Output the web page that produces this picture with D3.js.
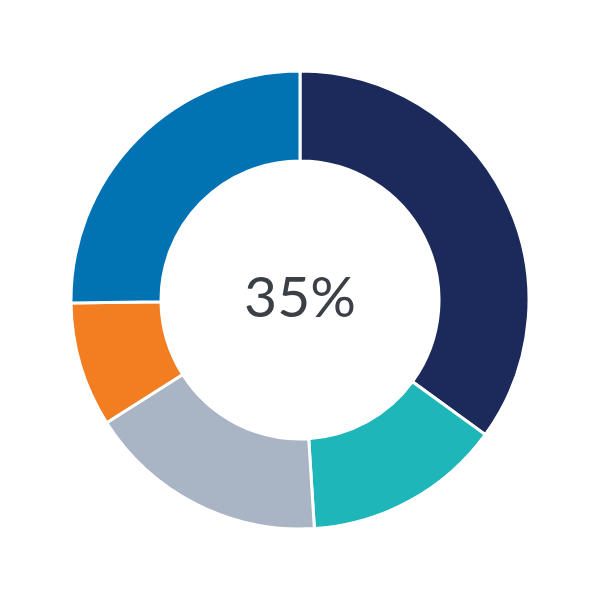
<!DOCTYPE html>
<html>
<head>
<meta charset="utf-8">
<script src="https://cdn.jsdelivr.net/npm/d3@7"></script>
<style>
  html, body { margin: 0; padding: 0; background: #fff; }
</style>
</head>
<body>
<div id="chart"></div>
<script>
// Slice data, clockwise from 12 o'clock
const categories = ['A', 'B', 'C', 'D', 'E'];
const values = [35, 14, 17, 8.8, 25.2];
const colors = ['#1b2a5a', '#1eb6b8', '#a9b4c4', '#f37d21', '#0173b3'];
const centerLabel = '35%';

const width = 600, height = 600;
const outerR = 229, innerR = 139;

const svg = d3.select('#chart')
    .append('svg')
    .attr('width', width)
    .attr('height', height);

const g = svg.append('g')
    .attr('transform', `translate(${width / 2}, ${height / 2})`);

const pie = d3.pie().sort(null).value(d => d.value);
const arc = d3.arc().innerRadius(innerR).outerRadius(outerR);

const data = categories.map((c, i) => ({ name: c, value: values[i] }));

g.selectAll('path')
    .data(pie(data))
    .enter()
    .append('path')
    .attr('d', arc)
    .attr('fill', (d, i) => colors[i])
    .attr('stroke', '#fff')
    .attr('stroke-width', 3)
    .attr('stroke-linejoin', 'miter');

g.append('text')
    .attr('text-anchor', 'middle')
    .attr('dominant-baseline', 'central')
    .attr('y', -5)
    .style('font-family', 'Lato, "Open Sans", sans-serif')
    .style('font-size', '57px')
    .style('fill', '#3b4046')
    .text(centerLabel);
</script>
</body>
</html>
